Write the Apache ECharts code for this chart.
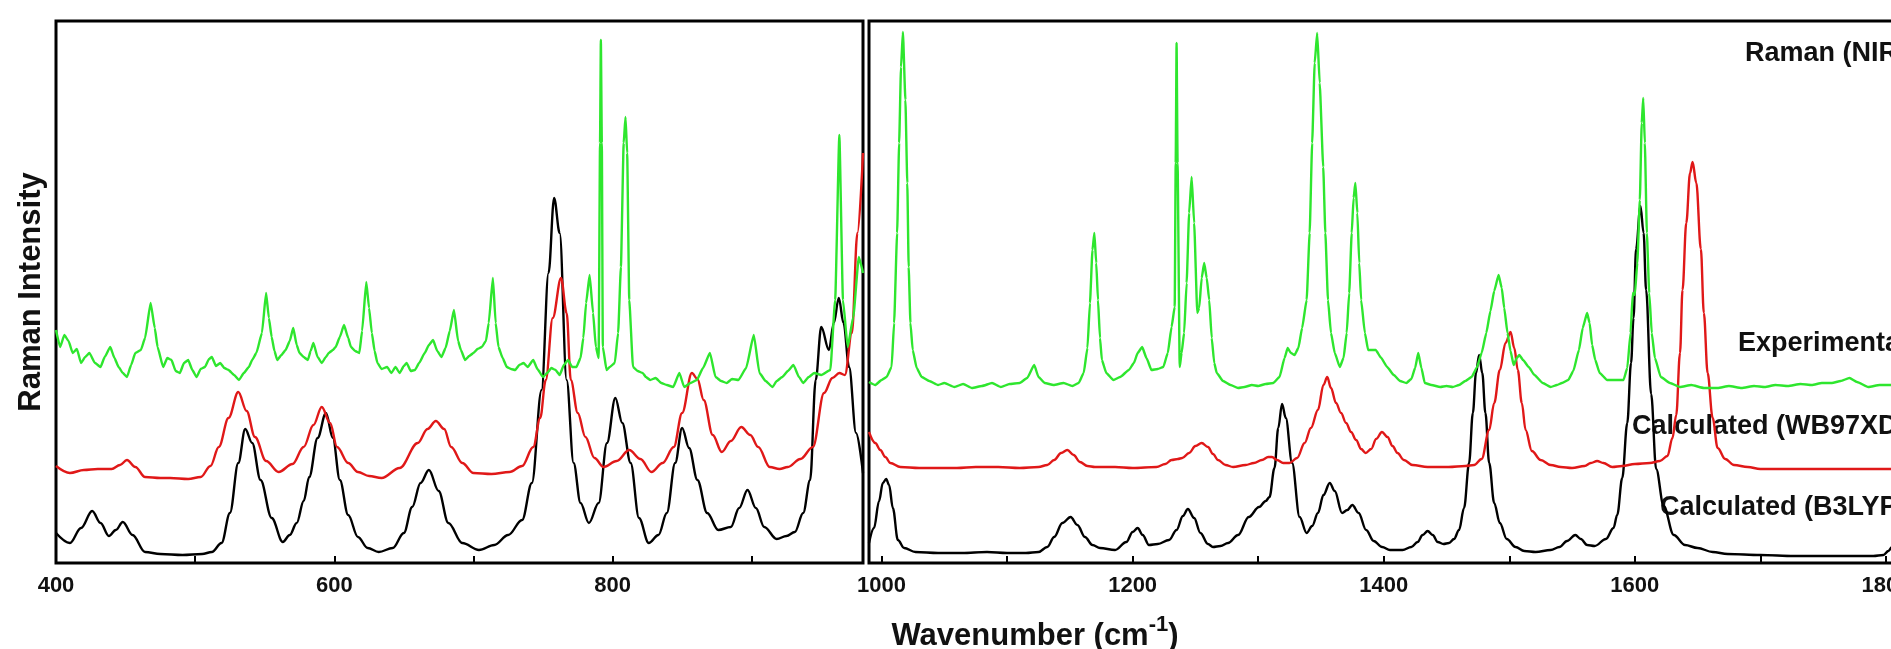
<!DOCTYPE html>
<html>
<head>
<meta charset="utf-8">
<script src="https://cdn.jsdelivr.net/npm/echarts@6/dist/echarts.min.js"></script>
<style>
html,body{margin:0;padding:0;background:#fff;}
#chart{width:1891px;height:649px;}
</style>
</head>
<body>
<div id="chart"></div>
<script>
// ---------- Left panel (400-980 cm-1) ----------
const expLeftW = [400,403,406,409,412,415,418,421,424,428,432,435,439,442,445,448,451,454,457,461,464,468,471,473,477,480,483,486,489,492,495,498,501,504,507,510,512,515,518,521,524,528,531.5,535,538.6,541,544,548,551,553,555,557,559,562,565,568,570.5,573,575,578,581,583,585,588,591,594,596,599,601,604,607,610,612,615,618,620,623,625,627,629,631,634,638,641,644,647,650,652,655,658,661,665,668,671,674,677,680,683,686,689,691,694,697,700,703,706,709,711,714,716,718,721,724,727,730,733,736,739,743,746,750,753,756,759,762,765,768,771,774,777,779,781,783.5,786,788,790,791,791.6,792.3,793,795.7,798,801.6,804,806,808,809.3,810.5,812,814.7,818,821.6,824,827,831,835,839,843.6,848,851.5,856,860.6,865,870,874,878,882,886,890.5,896,901.5,905.6,910,915,918,922,926,930,934,937,941,945,950,956.5,960,963,965.6,969,973,977,980];
const expLeftI = [233,216,228,222,210,214,200,206,210,200,196,206,216,205,196,190,186,198,210,213,225,260,235,216,196,205,203,192,190,200,203,193,186,194,196,204,206,197,200,195,193,188,183,190,196,203,210,230,270,245,226,212,203,208,213,222,235,218,210,206,203,212,220,206,200,206,210,213,216,226,238,225,216,212,210,232,281,255,230,212,200,194,196,190,196,190,197,200,192,193,200,210,218,223,212,206,215,232,253,222,213,203,207,210,214,216,222,240,285,240,216,205,196,194,193,198,200,196,203,194,186,190,195,193,188,198,203,196,196,205,225,260,288,250,216,205,420,523,420,216,193,196,200,230,296,420,446,410,263,196,192,190,186,183,185,180,178,176,190,176,180,183,195,210,186,182,180,184,183,195,228,190,182,176,182,186,192,198,186,180,186,190,188,193,263,428,263,216,246,306,290];

const wbLeftW = [400,410,420,430,440,446,451,457,464,475,482,495,504,511,517,524,531,537,543,551,560,570,578,585,591,597,602,610,617,625,634,647,660,667,673,679,684,692,700,713,726,735,743,748,752,757,763,767,770,775,780.5,787,793.5,803,812,820,828,836,844,850,857,861,865.5,872,878.5,885,892.5,899,904.7,913,920,926,935,944,952,958,963,967,972,976,980];
const wbLeftI = [97,90,93,94,94,98,103,96,86,85,85,84,86,97,116,145,171,152,126,102,91,99,116,138,156,140,116,100,91,87,85,95,120,134,142,134,116,100,90,89,91,97,116,145,183,245,285,250,183,150,126,105,96,102,113,104,91,100,116,150,190,184,163,128,111,122,136,128,116,96,94,96,104,116,170,185,190,188,230,330,410];

const b3LeftW = [400,410,418,426,432,438,443,448,455,464,475,491,505,512,519,525,531,536,541,547,555,563,568,573,578,582,588,594,599,604,610,617,624,632,642,650,656,662,668,675,682,692,704,715,725,735,742,749,754,758,762,767,772,777,783,790,796,802,807,813,819,826,833,839,845,850,855,861,868,876,885,891,897,903,909,918,925,931,937,942,946,950,955.5,959,962.6,966,970,975,980];
const b3LeftI = [30,20,35,52,40,27,33,41,28,11,9,8,9,11,20,50,100,134,120,83,45,21,28,40,62,86,125,150,125,83,48,26,15,11,15,30,56,80,93,72,40,20,13,18,28,43,80,173,290,365,330,183,100,60,40,60,120,165,140,100,45,20,28,50,100,135,115,83,50,33,36,55,73,55,36,24,27,31,50,83,183,236,213,240,265,240,196,130,90];

// ---------- Right panel (990-1820 cm-1) ----------
const expRightW = [990,995,1000,1004,1008,1010,1012.4,1014,1015.5,1017,1019,1020.5,1021.6,1023,1024.8,1028,1032,1038,1045,1050,1058,1065,1072,1080,1088,1095,1102,1110,1116,1121.6,1125,1130,1137,1145,1152,1157,1161,1164,1166,1168,1169.5,1171,1172.4,1174,1175.5,1179,1184.7,1190,1197,1201,1204,1207.6,1211,1215,1220,1224.4,1228,1231,1233.5,1234.3,1235,1235.8,1237.5,1239,1241,1243,1245,1247,1249,1251.5,1253,1255,1257,1259,1261,1263,1265,1267,1272,1278,1284,1289,1295,1300,1306,1312,1317,1321,1323.5,1326,1329,1332,1335,1338.6,1341,1343,1345,1347,1349,1351.8,1353.5,1355.6,1358,1361,1365,1368,1370.5,1372.5,1374.5,1376,1377.4,1379,1380.5,1382,1385,1387.6,1390,1393.6,1398,1402.7,1408,1413,1418,1422,1425,1427.5,1430,1432.7,1438,1445,1450,1455,1460,1465,1470,1474,1478,1481.7,1485,1488,1491.5,1494,1496,1498.6,1501,1503.5,1506,1508,1511,1515.5,1520,1526.7,1533,1538,1542,1547,1551,1555.5,1558.5,1562,1564,1566,1568.5,1572,1578,1585,1591,1594,1596.6,1598.4,1600,1602,1604,1605.5,1606.7,1608,1609.6,1611.5,1613.5,1616,1620.7,1628,1636,1645,1655,1666,1675,1685,1695,1703.6,1712,1722,1732,1741,1749,1757,1764,1771,1777,1786,1795,1805,1820];
const expRightI = [181,178,183,186,196,240,330,420,496,531,463,380,296,240,213,195,186,182,178,180,176,179,175,177,180,176,179,180,185,198,186,180,178,180,177,180,190,215,260,313,330,300,263,225,203,190,183,186,193,200,210,216,205,193,194,196,210,236,256,400,520,400,196,210,230,280,350,386,340,250,255,285,300,285,263,225,200,190,182,178,175,176,178,177,179,180,186,205,215,210,208,215,235,263,330,420,500,530,480,396,330,263,230,210,196,205,230,270,330,365,380,350,300,263,230,213,213,213,205,196,188,182,180,184,195,210,195,180,178,176,177,176,178,182,186,195,210,230,252,272,288,275,255,230,212,198,205,208,203,196,188,180,176,178,180,183,192,213,235,250,240,218,203,190,183,183,183,195,230,270,268,300,363,440,465,420,330,270,230,205,186,180,176,178,175,175,177,175,177,176,178,177,179,178,180,180,182,185,181,176,178,178,178];

const wbRightW = [990,995,999,1003,1007,1015,1030,1044,1060,1075,1093,1110,1125,1132,1137.5,1143,1148,1153,1158,1164,1170,1186,1200,1219,1226,1231,1236,1239.5,1245,1250,1255,1260,1264,1268,1274,1280,1290,1296.6,1303,1308,1311,1315,1320,1325,1331,1337,1342,1347.6,1352,1355,1358,1362,1366,1370,1374,1378,1382,1385.6,1390,1394,1398.6,1403,1407,1411,1416,1423,1435,1451.7,1465,1472,1478,1484,1488,1492.5,1497,1501,1504,1506.8,1510,1513,1518,1525,1533,1541,1550,1560,1565,1570,1575,1582,1590,1600,1612,1620,1626,1630,1633,1636,1638,1641,1644,1646,1649,1652.6,1655,1658,1662,1666,1672,1679,1690,1700,1720,1750,1780,1805,1820];
const wbRightI = [131,120,113,106,100,96,95,95,95,96,96,95,96,98,103,110,113,108,101,97,96,96,95,96,99,103,104,105,110,117,120,116,109,103,98,96,98,100,103,106,106,103,100,100,105,120,135,153,178,186,175,160,150,140,131,123,114,110,114,124,131,126,117,110,103,98,96,96,97,98,104,133,160,193,220,231,215,193,160,133,112,103,98,96,95,97,100,102,100,96,97,99,100,102,107,125,148,210,273,340,390,401,380,314,250,190,145,115,104,98,96,94,94,94,94,94,94];

const b3RightW = [990,994,998,1001,1003.7,1006,1009,1013,1018,1027,1045,1064,1084,1100,1115,1125,1132,1137.5,1144,1150.6,1156,1162,1168,1174,1186,1195,1200,1204,1208,1213,1220,1229,1235,1240,1244,1249,1254,1260,1264,1270,1276,1284,1292.5,1300.7,1306,1309,1313,1316,1319,1322,1327,1333,1338.6,1343,1347.6,1352,1357,1361,1366.8,1371,1375,1380,1386,1392,1398.7,1405,1415,1422,1427,1431,1435,1439,1443,1447.6,1452,1456,1460,1464,1468,1471,1473.5,1476,1478.5,1481,1484,1488,1492.5,1498,1505,1512,1521,1533,1540,1546,1552.6,1557,1562,1568,1577,1583,1586,1590,1594,1597,1599,1601,1604.5,1607,1609,1613,1617,1623,1631,1640,1650,1662,1674,1700,1727,1760,1790,1798,1802,1805,1812];
const b3RightI = [20,35,62,80,84,78,55,23,15,11,10,10,11,10,10,11,16,26,40,46,38,26,18,15,13,21,31,35,28,18,19,23,33,47,54,45,30,19,16,17,20,28,46,56,62,66,95,135,159,145,100,46,30,37,50,68,80,72,50,53,58,50,33,22,16,13,13,16,21,28,32,28,21,19,20,24,33,55,100,150,190,208,190,150,100,60,40,24,16,12,11,13,16,22,28,24,18,17,24,35,48,85,140,200,245,314,357,330,273,169,94,57,28,18,15,11,9,8,7,7,7,8,12,16,30];

// ---------- Axis ticks / labels ----------
const leftTicks = [500,600,700,800,900];
const leftLabels = [400,600,800];
const rightTicks = [1000,1100,1200,1300,1400,1500,1600,1700,1800];
const rightLabels = [1000,1200,1400,1600,1800];

const seriesNames = ['Calculated (B3LYP)','Calculated (WB97XD)','Experimental'];

const pairs = (w, v) => w.map((x, i) => [x, v[i]]);
const FONT = "'Liberation Sans', Arial, sans-serif";
const GREEN = '#2ee62e', RED = '#e01818', BLACK = '#000000';

const chart = echarts.init(document.getElementById('chart'), null, {renderer: 'canvas'});

function xAxisCfg(gridIndex, min, max, ticks, labels) {
  return {
    type: 'value', gridIndex, min, max,
    axisLine: {show: false},
    splitLine: {show: false},
    axisTick: {show: true, inside: true, length: 7, customValues: ticks,
               lineStyle: {color: '#000', width: 2}},
    axisLabel: {show: true, customValues: labels, margin: 12, formatter: v => String(v),
                color: '#111', fontFamily: FONT, fontWeight: 'bold', fontSize: 22}
  };
}
function yAxisCfg(gridIndex) {
  return {type: 'value', gridIndex, min: 0, max: 542,
          axisLine: {show: false}, axisTick: {show: false},
          axisLabel: {show: false}, splitLine: {show: false}};
}
function line(name, xi, data, color, smooth) {
  return {
    name, type: 'line', xAxisIndex: xi, yAxisIndex: xi, data,
    showSymbol: false, symbol: 'none', smooth, smoothMonotone: 'x',
    lineStyle: {color, width: 2.4}, itemStyle: {color}, clip: true, animation: false
  };
}

const option = {
  backgroundColor: '#fff',
  animation: false,
  grid: [
    {left: 56, top: 21, width: 807, height: 542, show: true, borderColor: '#000', borderWidth: 3,
     backgroundColor: 'transparent', containLabel: false, outerBoundsMode: 'none'},
    {left: 869, top: 21, width: 1042, height: 542, show: true, borderColor: '#000', borderWidth: 3,
     backgroundColor: 'transparent', containLabel: false, outerBoundsMode: 'none'}
  ],
  xAxis: [
    xAxisCfg(0, 400, 980, leftTicks, leftLabels),
    xAxisCfg(1, 990, 1820, rightTicks, rightLabels)
  ],
  yAxis: [yAxisCfg(0), yAxisCfg(1)],
  series: [
    line(seriesNames[0], 0, pairs(b3LeftW, b3LeftI), BLACK, 0.35),
    line(seriesNames[1], 0, pairs(wbLeftW, wbLeftI), RED, 0.35),
    line(seriesNames[2], 0, pairs(expLeftW, expLeftI), GREEN, 0.15),
    line(seriesNames[0], 1, pairs(b3RightW, b3RightI), BLACK, 0.35),
    line(seriesNames[1], 1, pairs(wbRightW, wbRightI), RED, 0.35),
    line(seriesNames[2], 1, pairs(expRightW, expRightI), GREEN, 0.15)
  ],
  graphic: [
    {type: 'text', x: 31, y: 292, rotation: Math.PI / 2,
     style: {text: 'Raman Intensity', font: 'bold 31px ' + FONT, fill: '#111',
             textAlign: 'center', textVerticalAlign: 'middle', align: 'center', verticalAlign: 'middle'}},
    {type: 'text', x: 1035, y: 636,
     style: {text: '{t|Wavenumber (cm}{s|-1}{t|)}', fill: '#111',
             textAlign: 'center', textVerticalAlign: 'middle', align: 'center', verticalAlign: 'middle',
             rich: {t: {font: 'bold 31px ' + FONT, fill: '#111'},
                    s: {font: 'bold 22px ' + FONT, fill: '#111', padding: [0, 0, 22, 0]}}}},
    {type: 'text', x: 1745, y: 54,
     style: {text: 'Raman (NIR)', font: 'bold 27px ' + FONT, fill: '#111',
             textAlign: 'left', textVerticalAlign: 'middle', align: 'left', verticalAlign: 'middle'}},
    {type: 'text', x: 1738, y: 344,
     style: {text: seriesNames[2], font: 'bold 27px ' + FONT, fill: '#111',
             textAlign: 'left', textVerticalAlign: 'middle', align: 'left', verticalAlign: 'middle'}},
    {type: 'text', x: 1632, y: 427,
     style: {text: seriesNames[1], font: 'bold 27px ' + FONT, fill: '#111',
             textAlign: 'left', textVerticalAlign: 'middle', align: 'left', verticalAlign: 'middle'}},
    {type: 'text', x: 1660, y: 508,
     style: {text: seriesNames[0], font: 'bold 27px ' + FONT, fill: '#111',
             textAlign: 'left', textVerticalAlign: 'middle', align: 'left', verticalAlign: 'middle'}}
  ]
};
chart.setOption(option);
</script>
</body>
</html>
